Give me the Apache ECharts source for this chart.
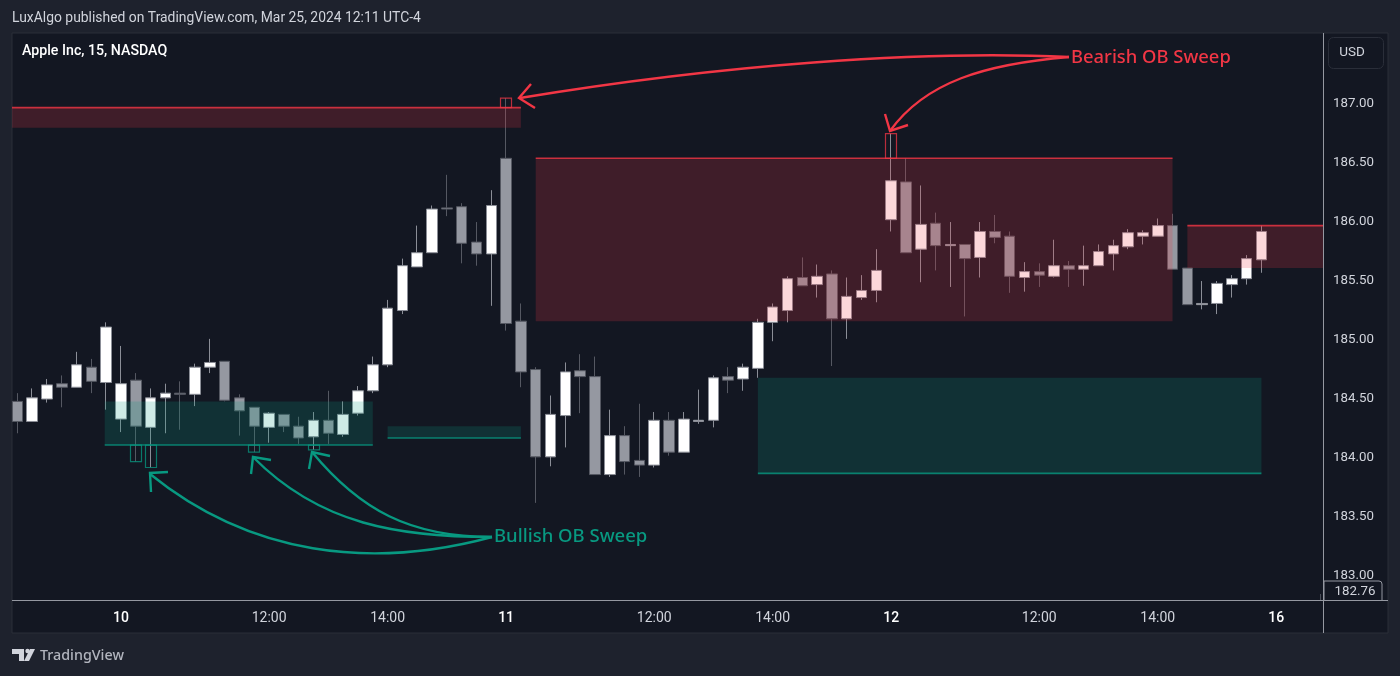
<!DOCTYPE html>
<html>
<head>
<meta charset="utf-8">
<title>Apple Inc, 15, NASDAQ</title>
<style>
    html, body { margin: 0; padding: 0; background: #1e222d; }
    #chart { width: 1400px; height: 676px; }
</style>
<script src="https://cdn.jsdelivr.net/npm/echarts@6/dist/echarts.min.js"></script>
</head>
<body>
<div id="chart"></div>
<script>
// each row: open, close, low, high (one 15 min bar, left to right)
const candles = [
    [184.48, 184.31, 184.21, 184.55], [184.31, 184.51, 184.31, 184.59], [184.50, 184.62, 184.47, 184.67],
    [184.63, 184.60, 184.43, 184.70], [184.60, 184.79, 184.60, 184.90], [184.77, 184.65, 184.55, 184.84],
    [184.64, 185.11, 184.41, 185.15], [184.33, 184.63, 184.22, 184.95], [184.66, 184.27, 183.97, 184.72],
    [184.26, 184.51, 183.92, 184.59], [184.51, 184.55, 184.21, 184.63], [184.55, 184.54, 184.24, 184.65],
    [184.54, 184.77, 184.44, 184.80], [184.77, 184.81, 184.72, 185.01], [184.82, 184.49, 184.48, 184.82],
    [184.51, 184.40, 184.19, 184.54], [184.43, 184.27, 184.05, 184.43], [184.26, 184.38, 184.13, 184.39],
    [184.37, 184.27, 184.22, 184.37], [184.27, 184.17, 184.12, 184.35], [184.18, 184.32, 184.07, 184.39],
    [184.32, 184.21, 184.12, 184.57], [184.20, 184.37, 184.18, 184.48], [184.38, 184.57, 184.36, 184.61],
    [184.57, 184.79, 184.55, 184.86], [184.79, 185.27, 184.77, 185.34], [185.25, 185.63, 185.22, 185.69],
    [185.62, 185.74, 185.62, 185.97], [185.74, 186.11, 185.74, 186.14], [186.12, 186.11, 186.05, 186.40],
    [186.13, 185.82, 185.65, 186.16], [185.83, 185.73, 185.63, 186.00], [185.73, 186.14, 185.29, 186.27],
    [186.54, 185.14, 185.08, 187.05], [185.16, 184.73, 184.60, 185.31], [184.75, 184.01, 183.62, 184.77],
    [184.01, 184.37, 183.93, 184.53], [184.36, 184.73, 184.09, 184.81], [184.74, 184.69, 184.38, 184.88],
    [184.69, 183.86, 183.86, 184.86], [183.86, 184.19, 183.84, 184.41], [184.19, 183.97, 183.86, 184.27],
    [183.98, 183.94, 183.84, 184.46], [183.94, 184.32, 183.92, 184.39], [184.32, 184.05, 184.02, 184.39],
    [184.05, 184.33, 184.05, 184.39], [184.31, 184.32, 184.29, 184.58], [184.32, 184.68, 184.26, 184.70],
    [184.69, 184.66, 184.55, 184.77], [184.67, 184.77, 184.57, 184.80], [184.76, 185.15, 184.68, 185.18],
    [185.15, 185.28, 184.99, 185.31], [185.25, 185.52, 185.15, 185.54], [185.53, 185.46, 185.46, 185.70],
    [185.47, 185.54, 185.36, 185.64], [185.56, 185.18, 184.78, 185.59], [185.18, 185.37, 185.01, 185.53],
    [185.36, 185.42, 185.34, 185.55], [185.42, 185.59, 185.32, 185.77], [186.02, 186.35, 185.92, 186.75],
    [186.34, 185.74, 185.74, 186.54], [185.77, 185.98, 185.49, 186.31], [185.99, 185.80, 185.59, 186.08],
    [185.80, 185.81, 185.45, 186.00], [185.81, 185.69, 185.20, 185.81], [185.70, 185.92, 185.53, 186.00],
    [185.92, 185.87, 185.82, 186.06], [185.88, 185.54, 185.40, 185.92], [185.53, 185.58, 185.41, 185.66],
    [185.58, 185.55, 185.45, 185.65], [185.54, 185.63, 185.53, 185.85], [185.63, 185.60, 185.45, 185.67],
    [185.60, 185.63, 185.46, 185.80], [185.63, 185.75, 185.63, 185.81], [185.73, 185.80, 185.59, 185.85],
    [185.79, 185.91, 185.77, 185.94], [185.88, 185.91, 185.81, 185.93], [185.88, 185.97, 185.88, 186.03],
    [185.97, 185.60, 185.60, 186.07], [185.61, 185.30, 185.30, 185.61], [185.30, 185.31, 185.26, 185.50],
    [185.31, 185.48, 185.22, 185.50], [185.47, 185.52, 185.36, 185.55], [185.52, 185.69, 185.47, 185.72],
    [185.68, 185.92, 185.57, 185.97]
];

// order blocks: first bar, last bar, top price, bottom price
const bearishBlocks = [
    [-1, 34, 186.97, 186.80],
    [35, 78, 186.54, 185.16],
    [79, 89, 185.97, 185.61]
];
const bullishBlocks = [
    [5.9, 24, 184.48, 184.11],
    [25, 34, 184.27, 184.17],
    [50, 84, 184.68, 183.87]
];

// sweep boxes: bar, top price, bottom price
const bearishSweeps = [
    [33, 187.05, 186.97],
    [59, 186.75, 186.54]
];
const bullishSweeps = [
    [8, 184.11, 183.97],
    [9, 184.11, 183.92],
    [16, 184.11, 184.05],
    [20, 184.11, 184.07]
];

const timeTickBars = [7, 17, 25, 33, 43, 51, 59, 69, 77, 85];
const timeTickLabels = ['10', '12:00', '14:00', '11', '12:00', '14:00', '12', '12:00', '14:00', '16'];
const priceTicks = [183, 183.5, 184, 184.5, 185, 185.5, 186, 186.5, 187];
const lastPrice = 182.76;

const red = '#f23645';
const green = '#089981';
const lineGray = '#9598a1';
const font = 'Roboto';

function blockSeries(data, color, edge) {
    return {
        type: 'custom',
        z: 5,
        clip: true,
        silent: true,
        data: data,
        encode: { x: [0, 1], y: [2, 3] },
        renderItem: function(params, api) {
            let a = api.coord([api.value(0), api.value(2)]);
            let b = api.coord([api.value(1), api.value(3)]);
            let lineY = edge === 'top' ? a[1] : b[1];
            return {
                type: 'group',
                children: [
                    {
                        type: 'rect',
                        shape: { x: a[0], y: a[1], width: b[0] - a[0], height: b[1] - a[1] },
                        style: { fill: echarts.color.modifyAlpha(color, 0.2) }
                    },
                    {
                        type: 'line',
                        shape: { x1: a[0], y1: lineY, x2: b[0], y2: lineY },
                        style: { stroke: echarts.color.modifyAlpha(color, 0.8), lineWidth: 1.6 }
                    }
                ]
            };
        }
    };
}

function sweepSeries(data, color) {
    return {
        type: 'custom',
        z: 6,
        clip: true,
        silent: true,
        data: data,
        encode: { x: 0, y: [1, 2] },
        renderItem: function(params, api) {
            let a = api.coord([api.value(0), api.value(1)]);
            let b = api.coord([api.value(0), api.value(2)]);
            return {
                type: 'rect',
                shape: { x: Math.round(a[0]) - 5.5, y: a[1], width: 11, height: b[1] - a[1] },
                style: { fill: 'none', stroke: echarts.color.modifyAlpha(color, 0.75), lineWidth: 1.2 }
            };
        }
    };
}

function curve(x1, y1, cx1, cy1, cx2, cy2, x2, y2, color) {
    return {
        type: 'bezierCurve',
        z: 50,
        shape: { x1: x1, y1: y1, cpx1: cx1, cpy1: cy1, cpx2: cx2, cpy2: cy2, x2: x2, y2: y2 },
        style: { stroke: color, fill: 'none', lineWidth: 2.4 }
    };
}

function arrowHead(points, color) {
    return {
        type: 'polyline',
        z: 50,
        shape: { points: points },
        style: { stroke: color, fill: 'none', lineWidth: 2.4 }
    };
}

function label(text, x, y, size, color, weight, family, align) {
    return {
        type: 'text',
        z: 60,
        x: x,
        y: y,
        style: {
            text: text,
            fill: color,
            font: (weight || 400) + ' ' + size + 'px ' + (family || font),
            align: align || 'left',
            verticalAlign: 'middle'
        }
    };
}

let myChart = echarts.init(document.getElementById('chart'));
let option = {
    backgroundColor: '#1e222d',
    animation: false,
    grid: { left: 12, top: 33, width: 1312, height: 567 },
    xAxis: {
        type: 'value',
        min: -0.36,
        max: 88.225,
        splitLine: { show: false },
        axisLine: { show: false },
        axisTick: { show: false },
        axisLabel: {
            customValues: timeTickBars,
            margin: 11,
            color: '#d1d4dc',
            fontFamily: font,
            fontSize: 14,
            formatter: function(value) {
                let text = timeTickLabels[timeTickBars.indexOf(value)];
                return text.indexOf(':') < 0 ? '{day|' + text + '}' : text;
            },
            rich: {
                day: { color: '#ffffff', fontFamily: font, fontSize: 14, fontWeight: 500 }
            }
        }
    },
    yAxis: {
        type: 'value',
        position: 'right',
        min: 182.797,
        max: 187.602,
        splitLine: { show: false },
        axisLine: { show: false },
        axisTick: { show: false },
        axisLabel: {
            customValues: priceTicks,
            margin: 9,
            padding: [2, 0, 0, 0],
            color: '#d1d4dc',
            fontFamily: font,
            fontSize: 13.3,
            formatter: function(value) {
                return value.toFixed(2);
            }
        }
    },
    series: [
        {
            name: 'AAPL',
            type: 'candlestick',
            z: 2,
            barWidth: 11,
            encode: { x: 0, y: [1, 2, 3, 4] },
            data: candles.map(function(c, i) {
                return [i].concat(c);
            }),
            itemStyle: {
                color: '#ffffff',
                color0: '#9598a1',
                borderColor: '#8b8e97',
                borderColor0: '#555862',
                borderWidth: 1
            }
        },
        blockSeries(bearishBlocks, red, 'top'),
        blockSeries(bullishBlocks, green, 'bottom'),
        sweepSeries(bearishSweeps, red),
        sweepSeries(bullishSweeps, green)
    ],
    graphic: {
        elements: [
            // panel behind the plot and the two scales
            {
                type: 'rect',
                z: -10,
                shape: { x: 12, y: 33, width: 1376, height: 600 },
                style: { fill: '#131722', stroke: '#2a2e39', lineWidth: 1 }
            },
            // scale dividers
            {
                type: 'line',
                z: 40,
                shape: { x1: 12, y1: 600.5, x2: 1388, y2: 600.5 },
                style: { stroke: lineGray, lineWidth: 1 }
            },
            {
                type: 'line',
                z: 40,
                shape: { x1: 1323.5, y1: 33, x2: 1323.5, y2: 633 },
                style: { stroke: lineGray, lineWidth: 1 }
            },
            {
                type: 'line',
                z: 40,
                shape: { x1: 1320.5, y1: 594, x2: 1320.5, y2: 600 },
                style: { stroke: '#4a4e59', lineWidth: 1 }
            },
            // bearish arrows
            curve(1069, 57, 920, 50, 720, 65, 520, 98, red),
            arrowHead([[531, 84], [519, 98], [535, 108]], red),
            curve(1069, 57, 985, 64, 925, 82, 890, 131, red),
            arrowHead([[885, 114], [890, 131], [908, 125]], red),
            // bullish arrows
            curve(492, 537, 370, 570, 250, 555, 150, 474, green),
            arrowHead([[168, 472], [150, 473], [151, 492]], green),
            curve(492, 537, 400, 537, 320, 525, 253, 457, green),
            arrowHead([[271, 460], [253, 457], [251, 474]], green),
            curve(492, 537, 410, 537, 360, 510, 312, 452, green),
            arrowHead([[330, 456], [312, 452], [309, 469]], green),
            // annotations and headers
            label('Bearish OB Sweep', 1071, 57.5, 18.4, red, 500, '"Noto Sans"'),
            label('Bullish OB Sweep', 494, 536.5, 18.5, green, 500, '"Noto Sans"'),
            label('LuxAlgo published on TradingView.com, Mar 25, 2024 12:11 UTC-4', 12, 18.5, 13.9, '#d1d4dc', 400),
            label('Apple Inc, 15, NASDAQ', 22, 51.5, 14.2, '#ffffff', 500),
            // currency button
            {
                type: 'rect',
                z: 45,
                shape: { x: 1328.5, y: 37.5, width: 55, height: 31, r: 5 },
                style: { fill: '#131722', stroke: '#2a2e39', lineWidth: 1 }
            },
            label('USD', 1352, 52.5, 13.5, '#d1d4dc', 400, font, 'center'),
            // last price tag
            {
                type: 'rect',
                z: 45,
                shape: { x: 1324, y: 581, width: 58, height: 19.5, r: [0, 3, 0, 0] },
                style: { fill: '#131722', stroke: lineGray, lineWidth: 1 }
            },
            label(lastPrice.toFixed(2), 1355, 592, 13.3, '#d1d4dc', 400, font, 'center'),
            // TradingView mark
            {
                type: 'polygon',
                z: 50,
                shape: { points: [[12, 649], [24, 649], [24, 661], [19, 661], [19, 654], [12, 654]] },
                style: { fill: '#d1d4dc' }
            },
            {
                type: 'circle',
                z: 50,
                shape: { cx: 27.5, cy: 651, r: 2.2 },
                style: { fill: '#d1d4dc' }
            },
            {
                type: 'polygon',
                z: 50,
                shape: { points: [[30, 649], [35, 649], [29, 661], [24, 661]] },
                style: { fill: '#d1d4dc' }
            },
            label('TradingView', 40, 656, 14.3, '#b2b5be', 500, '"Noto Sans"')
        ]
    }
};
myChart.setOption(option);
</script>
</body>
</html>
